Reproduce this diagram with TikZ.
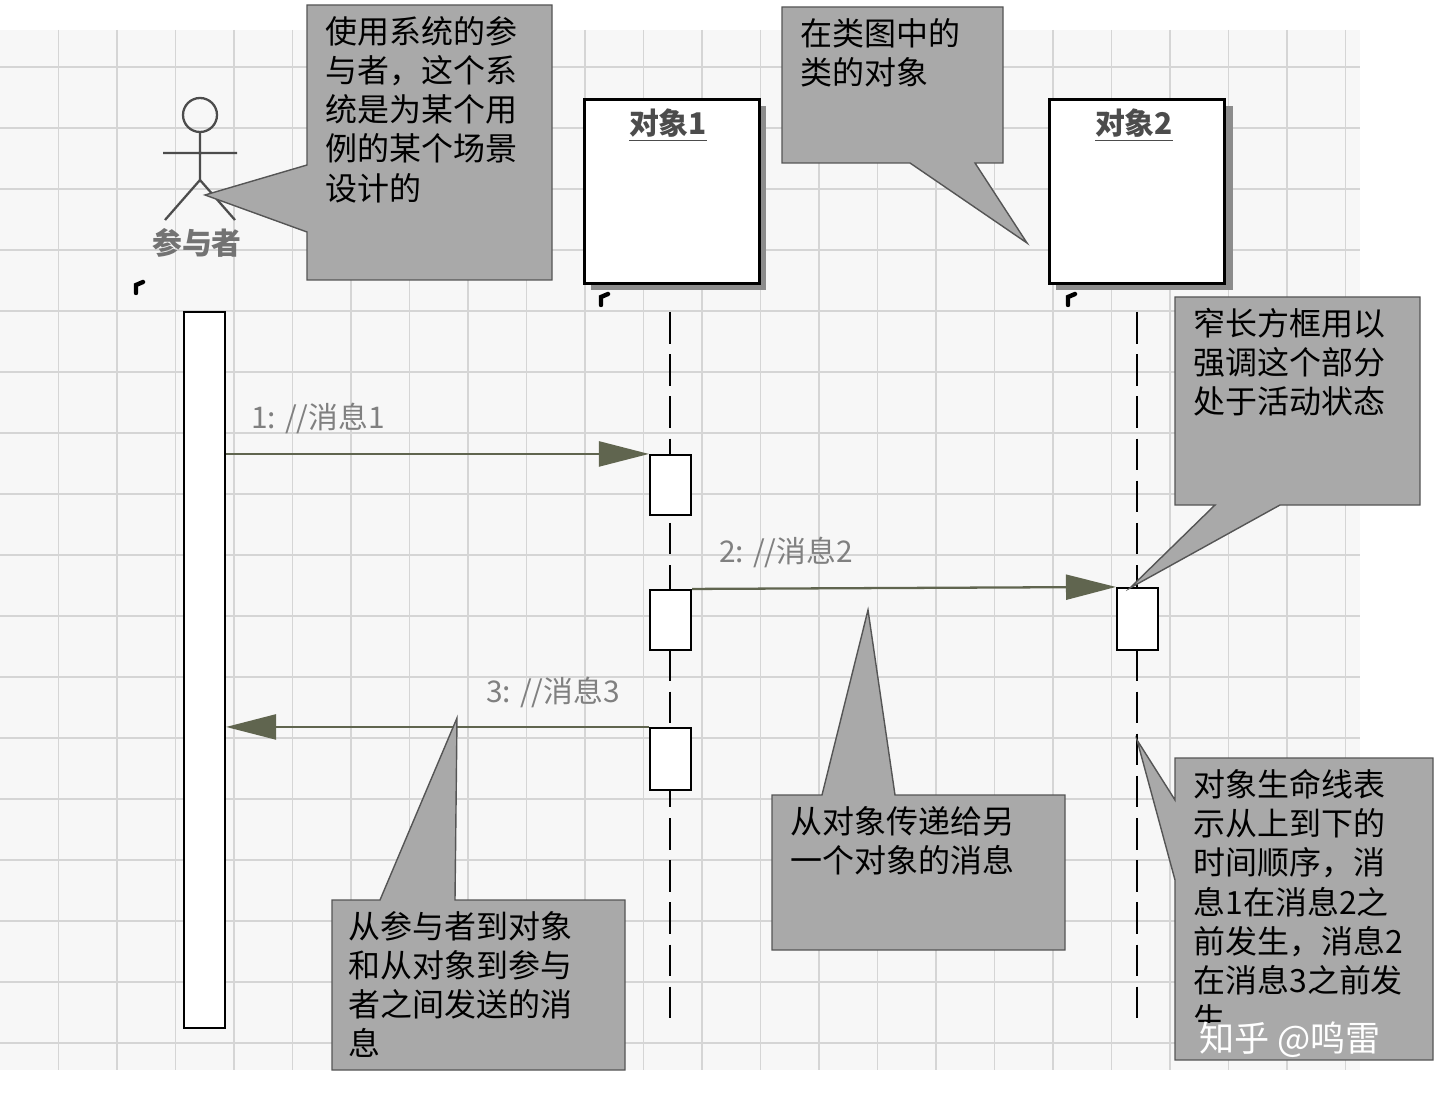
\documentclass[tikz,border=0pt]{standalone}
\usepackage{fontspec}
\setmainfont{Noto Sans CJK SC}
\usetikzlibrary{arrows.meta,calc}
\definecolor{callfill}{HTML}{A9A9A9}
\definecolor{callline}{HTML}{555555}
\definecolor{msg}{HTML}{60654F}
\definecolor{gridbg}{HTML}{F7F7F7}
\definecolor{gridln}{HTML}{D5D5D5}
\tikzset{
  call/.style={fill=callfill,draw=callline,line width=0.8pt},
  ctext/.style={anchor=north west,align=left,font=\fontsize{18.2}{22.3}\selectfont,inner sep=0pt},
  act/.style={draw=black,fill=white,line width=1.2pt,minimum width=0.82cm,inner sep=0pt},
  obj/.style={draw=black,fill=white,line width=1.5pt,minimum width=3.5cm,minimum height=3.68cm,inner sep=0pt},
  life/.style={draw=black,line width=1pt,dash pattern=on 18pt off 6pt},
  msgarrow/.style={draw=msg,line width=1.3pt,-{Triangle[length=1cm,width=0.5cm,fill=msg]}},
  mlabel/.style={text=gray,font=\fontsize{17}{19}\selectfont},
  hook/.style={line width=2.5pt,black,line cap=round},
}
\begin{document}
\begin{tikzpicture}[x=0.02cm,y=-0.02cm]
\useasboundingbox (0,0) rectangle (1440,1101);
\fill[white] (0,0) rectangle (1440,1101);
\fill[gridbg] (0,30) rectangle (1360,1070);
\foreach \i in {1,...,23} {\draw[gridln,line width=1pt] ({\i*58.5},30) -- ({\i*58.5},1070);}
\foreach \j in {1,...,17} {\draw[gridln,line width=1pt] (0,{6+\j*61}) -- (1360,{6+\j*61});}
% actor
\draw[black!70,line width=1.3pt] (200,115) circle (17);
\draw[black!70,line width=1.3pt] (200,132) -- (200,180) (163,153) -- (237,153) (200,180) -- (165,220) (200,180) -- (235,220);
\node[text=black!55,font=\bfseries\fontsize{17}{20}\selectfont] (actor) at (197,243) {参与者};
% objects
\fill[black!45] (591,106) rectangle (766,290);
\node[obj,anchor=north west] (o1) at (583,98) {};
\node[font=\bfseries\fontsize{17}{20}\selectfont,text=black!70] (o1l) at (668,125) {\underline{对象1}};
\fill[black!45] (1056,106) rectangle (1233,290);
\node[obj,anchor=north west] (o2) at (1048,98) {};
\node[font=\bfseries\fontsize{17}{20}\selectfont,text=black!70] (o2l) at (1134,125) {\underline{对象2}};
% small icons
\draw[hook] (136,293) -- (136,285) -- (143,282);
\draw[hook] (601,305) -- (601,297) -- (608,294);
\draw[hook] (1068,305) -- (1068,297) -- (1075,294);
% lifelines
\draw[life] (670,312) -- (670,1028);
\draw[life] (1137,312) -- (1137,1028);
% actor activation
\node[draw=black,fill=white,line width=1.2pt,minimum width=0.82cm,minimum height=14.32cm,inner sep=0pt] (aa) at (204.5,670) {};
% activations
\node[act,minimum height=1.2cm] (a1) at (670.5,485) {};
\node[act,minimum height=1.2cm] (a2) at (670.5,620) {};
\node[act,minimum height=1.24cm] (a3) at (670.5,759) {};
\node[act,minimum height=1.24cm] (b1) at (1137.5,619) {};
% messages
\draw[msgarrow] (aa.east |- a1.north) -- (a1.north west);
\node[mlabel] (m1) at (318,418) {1: //消息1};
\draw[msgarrow] (a2.north east) -- (b1.north west);
\node[mlabel] (m2) at (786,552) {2: //消息2};
\draw[msgarrow] (a3.north west) -- (aa.east |- a3.north);
\node[mlabel] (m3) at (553,692) {3: //消息3};
% callouts
\draw[call] (307,5) -- (552,5) -- (552,280) -- (307,280) -- (307,232) -- (205,195) -- (307,165) -- cycle;
\node[ctext] (t1) at (325,16) {使用系统的参\\与者，这个系\\统是为某个用\\例的某个场景\\设计的};
\draw[call] (782,7) -- (1003,7) -- (1003,163) -- (975,163) -- (1027,243) -- (910,163) -- (782,163) -- cycle;
\node[ctext] (t2) at (800,18) {在类图中的\\类的对象};
\draw[call] (1175,297) -- (1420,297) -- (1420,505) -- (1280,505) -- (1130,588) -- (1215,505) -- (1175,505) -- cycle;
\node[ctext] (t3) at (1193,308) {窄长方框用以\\强调这个部分\\处于活动状态};
\draw[call] (772,795) -- (822,795) -- (868,610) -- (895,795) -- (1065,795) -- (1065,950) -- (772,950) -- cycle;
\node[ctext] (t4) at (790,806) {从对象传递给另\\一个对象的消息};
\draw[call] (332,900) -- (380,900) -- (457,718) -- (455,900) -- (625,900) -- (625,1070) -- (332,1070) -- cycle;
\node[ctext] (t5) at (348,911) {从参与者到对象\\和从对象到参与\\者之间发送的消\\息};
\draw[call] (1175,758) -- (1433,758) -- (1433,1060) -- (1175,1060) -- (1175,880) -- (1137,740) -- (1175,800) -- cycle;
\begin{scope}
\clip (1175,758) rectangle (1433,1022);
\node[ctext] (t6) at (1193,769) {对象生命线表\\示从上到下的\\时间顺序，消\\息1在消息2之\\前发生，消息2\\在消息3之前发\\生};
\end{scope}
\node[text=white,font=\fontsize{20}{22}\selectfont] (wm) at (1290,1040) {知乎 @鸣雷};
\end{tikzpicture}
\end{document}
